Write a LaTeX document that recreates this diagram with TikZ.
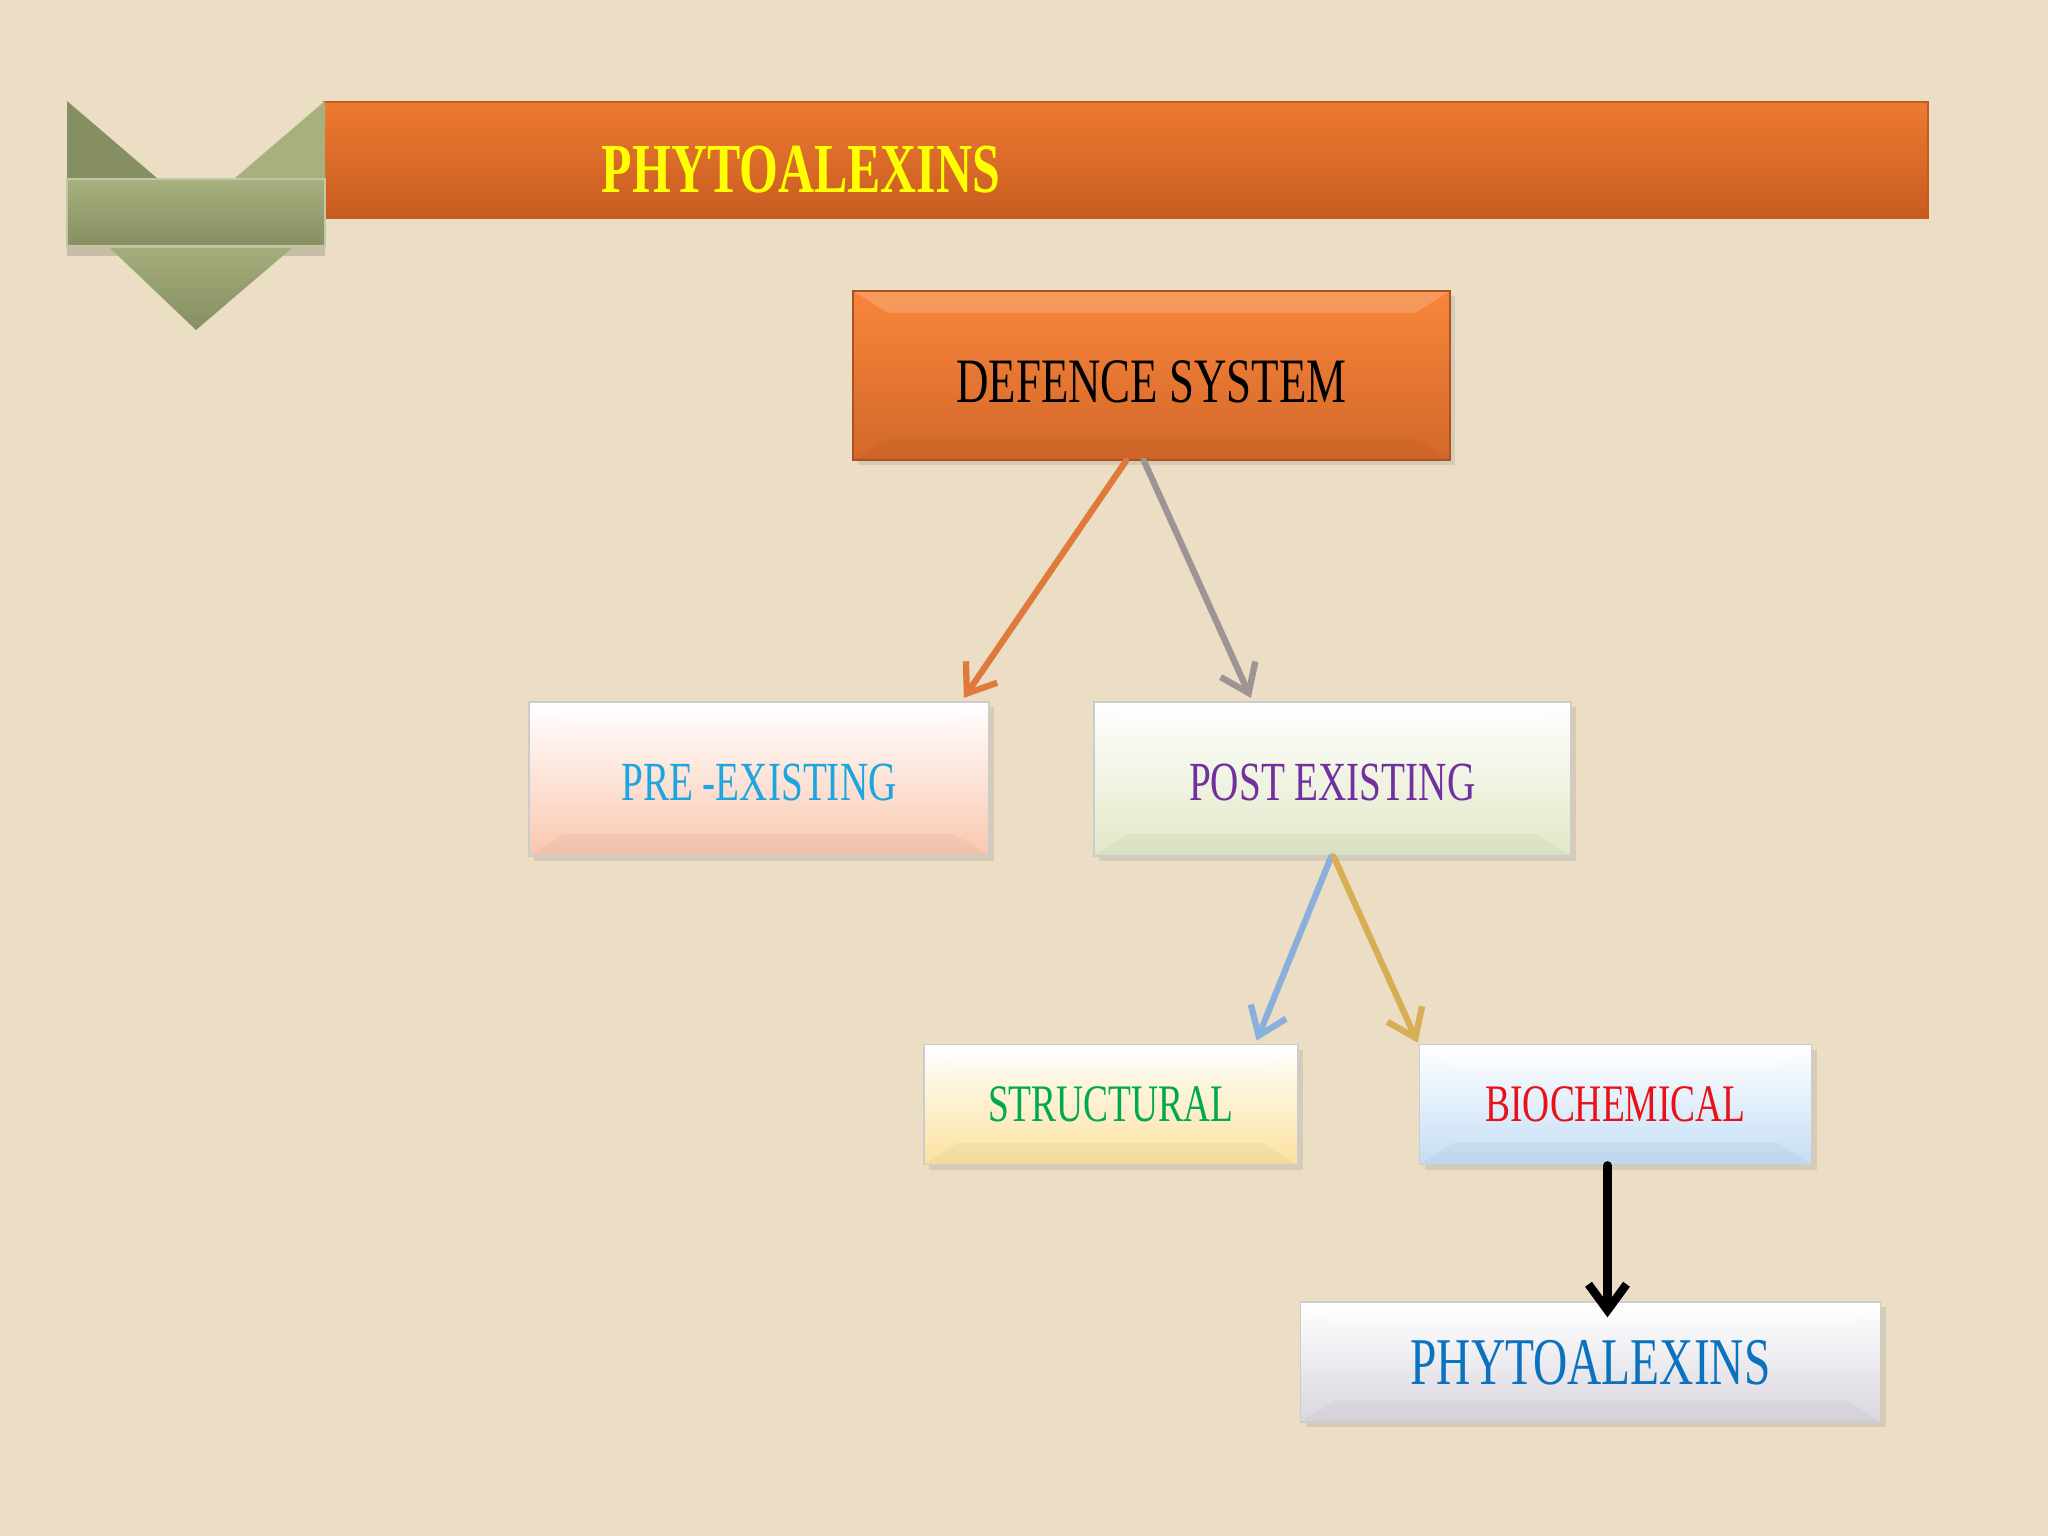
\documentclass[tikz,border=0pt]{standalone}
\usepackage{fontspec}
\setmainfont{Liberation Serif}[FakeStretch=0.71]
\usepackage{xcolor}
\usetikzlibrary{arrows.meta,positioning,calc,shadows}

\definecolor{pagebg}{HTML}{EBDEC5}
\definecolor{bartop}{HTML}{EE7A32}
\definecolor{barbot}{HTML}{C75B1F}
\definecolor{olivelight}{HTML}{A8B07E}
\definecolor{olivedark}{HTML}{868F61}
\definecolor{defencetop}{HTML}{F8853A}
\definecolor{defencebot}{HTML}{D3682A}
\definecolor{prefill}{HTML}{F9C7AF}
\definecolor{postfill}{HTML}{E1E8C6}
\definecolor{structfill}{HTML}{FCE1A0}
\definecolor{biofill}{HTML}{C4DEF4}
\definecolor{phytofill}{HTML}{D9D6DE}
\definecolor{pretext}{HTML}{1CA5DF}
\definecolor{posttext}{HTML}{7030A0}
\definecolor{structtext}{HTML}{00A84F}
\definecolor{biotext}{HTML}{E8111B}
\definecolor{phytotext}{HTML}{0B72BF}
\definecolor{titleyellow}{HTML}{FFFF00}
\definecolor{arrorange}{HTML}{E07A3C}
\definecolor{arrgrey}{HTML}{9E9494}
\definecolor{arrblue}{HTML}{88B0DA}
\definecolor{arrgold}{HTML}{D8AE55}

\begin{document}
\begin{tikzpicture}[
        bevel/.style={rectangle, inner sep=0pt, line width=0.5pt,
            drop shadow={opacity=0.2, shadow xshift=0.05cm, shadow yshift=-0.05cm},
            path picture={
                \fill[white, opacity=#1] (path picture bounding box.north west) -- (path picture bounding box.north east)
                    -- ([xshift=-0.35cm, yshift=-0.22cm]path picture bounding box.north east)
                    -- ([xshift=0.35cm, yshift=-0.22cm]path picture bounding box.north west) -- cycle;
                \fill[black, opacity=0.03] (path picture bounding box.south west) -- (path picture bounding box.south east)
                    -- ([xshift=-0.35cm, yshift=0.22cm]path picture bounding box.south east)
                    -- ([xshift=0.35cm, yshift=0.22cm]path picture bounding box.south west) -- cycle;
            }},
        defencebox/.style={bevel=0.18, draw=defencebot!80!black, top color=defencetop, bottom color=defencebot,
            minimum width=5.97cm, minimum height=1.69cm, text height=0.55cm, font=\fontsize{18}{21}\selectfont},
        smallbox/.style={bevel=0.4, draw=black!20, top color=white, bottom color=#1,
            minimum width=4.6cm, minimum height=1.54cm, text height=0.44cm, font=\fontsize{15.7}{18}\selectfont},
        leafbox/.style={bevel=0.4, draw=black!20, top color=white, bottom color=#1,
            minimum width=3.74cm, minimum height=1.2cm, font=\fontsize{15}{18}\selectfont},
        titlebar/.style={rectangle, draw=barbot, top color=bartop, bottom color=barbot,
            minimum width=16.04cm, minimum height=1.16cm, inner sep=0pt},
        titletext/.style={text=titleyellow, font=\fontsize{20}{24}\selectfont\bfseries, inner sep=0pt},
        line/.style={draw, -{Straight Barb[length=0.26cm, width=0.38cm]}, line width=1.8pt, line cap=round}
    ]

    % Page and margins
    \fill[pagebg] (0,0) rectangle (20.48,-15.36);
    \useasboundingbox (0,0) rectangle (20.48,-15.36);

    % Title banner
    \node [titlebar] (bar) at (11.26,-1.60) {};
    \node [titletext, anchor=west] (title) at (6.01,-1.70) {PHYTOALEXINS};

    % Chevron mark
    \fill[olivedark] (0.67,-1.01) -- (0.67,-1.79) -- (1.58,-1.79) -- cycle;
    \fill[olivelight] (3.25,-1.01) -- (3.25,-1.79) -- (2.34,-1.79) -- cycle;
    \fill[black, opacity=0.15] (0.67,-2.46) rectangle (3.25,-2.56);
    \shade[top color=olivelight!90!olivedark, bottom color=olivedark] (1.10,-2.48) -- (2.92,-2.48) -- (1.96,-3.30) -- cycle;
    \shade[top color=olivelight, bottom color=olivedark, draw=olivelight!70!white, line width=0.4pt] (0.67,-1.79) rectangle (3.25,-2.46);

    % Tree of boxes
    \node [defencebox] (defence) at (11.515,-3.755) {DEFENCE SYSTEM};
    \node [smallbox=prefill, text=pretext, below=2.4cm of defence, xshift=-3.925cm] (pre) {PRE -EXISTING};
    \node [smallbox=postfill, text=posttext, right=1.03cm of pre, minimum width=4.77cm] (post) {POST EXISTING};
    \node [leafbox=structfill, text=structtext, below=1.87cm of post, xshift=-2.215cm] (structural) {STRUCTURAL};
    \node [leafbox=biofill, text=biotext, right=1.2cm of structural, minimum width=3.92cm] (biochem) {BIOCHEMICAL};
    \node [leafbox=phytofill, text=phytotext, below=1.36cm of biochem, xshift=-0.25cm, minimum width=5.8cm,
        font=\fontsize{19}{22}\selectfont] (phyto) {PHYTOALEXINS};

    % Connections
    \path [line, draw=arrorange] ($(defence.south)+(-0.255,0)$) -- ($(pre.north east)+(-0.26,0.03)$);
    \path [line, draw=arrgrey] ($(defence.south)+(-0.075,0)$) -- ($(post.north west)+(1.58,0.03)$);
    \path [line, draw=arrblue] ($(post.south)+(-0.01,0)$) -- ($(structural.north east)+(-0.42,0.03)$);
    \path [line, draw=arrgold] ($(post.south)+(0.015,0)$) -- ($(biochem.north west)+(-0.01,0.01)$);
    \path [line, draw=black, line width=2.4pt] ($(biochem.south)+(-0.08,0)$) -- ($(phyto.north)+(0.17,-0.16)$);

\end{tikzpicture}
\end{document}
